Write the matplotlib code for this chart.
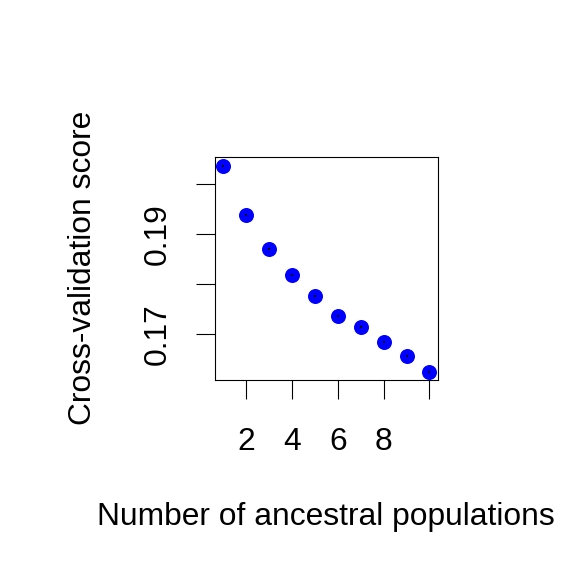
import matplotlib
matplotlib.use("Agg")
import matplotlib.pyplot as plt

plt.rcParams['font.family'] = ['Liberation Sans', 'DejaVu Sans']

k_values = [1, 2, 3, 4, 5, 6, 7, 8, 9, 10]
cv_scores = [0.2037, 0.1939, 0.1871, 0.1819, 0.1777, 0.1736, 0.1714, 0.1684, 0.1657, 0.1625]
x_ticks = [2, 4, 6, 8, 10]
x_tick_labels = ['2', '4', '6', '8', '']
y_ticks = [0.17, 0.18, 0.19, 0.20]
y_tick_labels = ['0.17', '', '0.19', '']

W = 576.0
fig = plt.figure(figsize=(8, 8), dpi=72)
ax = fig.add_axes([215/W, (576-380)/W, 222.7/W, 222.7/W])

ax.plot(k_values, cv_scores, linestyle='none', marker='o', markersize=15,
        color='#0000ff', markeredgewidth=0)
ax.plot(k_values, cv_scores, linestyle='none', marker='s', markersize=2.2,
        color='black', markeredgewidth=0)

xr = max(k_values) - min(k_values)
ax.set_xlim(min(k_values) - 0.04*xr, max(k_values) + 0.04*xr)
yr = max(cv_scores) - min(cv_scores)
ax.set_ylim(min(cv_scores) - 0.04*yr, max(cv_scores) + 0.04*yr)

ax.set_xticks(x_ticks)
ax.set_xticklabels(x_tick_labels)
ax.set_yticks(y_ticks)
ax.set_yticklabels(y_tick_labels, rotation=90, va='center')

ax.tick_params(axis='both', length=19, width=1.1, labelsize=31.8, direction='out')
ax.tick_params(axis='x', pad=28)
ax.tick_params(axis='y', pad=23)
for s in ax.spines.values():
    s.set_linewidth(1.1)

fig.text(326/W, 1 - 517/W, 'Number of ancestral populations', ha='center', va='center', fontsize=31.8)
fig.text(83/W, 1 - 268/W, 'Cross-validation score', ha='center', va='center', rotation=90, fontsize=31.8)

fig.savefig('out.png', dpi=72)
